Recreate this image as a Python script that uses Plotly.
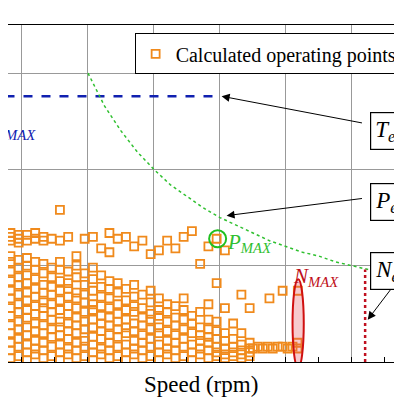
import plotly.graph_objects as go

# operating points (speed rpm, torque Nm) read column by column
speed_cols = [1650, 1900, 2150, 2400, 2650, 2900, 3150, 3400, 3650, 3900, 4150, 4400,
              4650, 4900, 5150, 5400, 5650, 5900, 6150, 6400, 6650, 6900, 7150, 7400,
              7650, 7900, 8150, 8400, 8650, 8900]
torque_cols = [
    [2, 6, 10, 15, 19, 24, 28, 33, 37, 42, 47, 52, 55, 63, 65, 67],
    [3, 8, 12, 17, 21, 26, 30, 35, 40, 44, 49, 53, 62, 64, 66],
    [1, 5, 9, 14, 18, 23, 27, 32, 36, 41, 45, 50, 54, 63, 66],
    [4, 7, 11, 16, 20, 25, 29, 34, 38, 43, 48, 52, 64, 67],
    [2, 6, 10, 15, 19, 24, 28, 31, 36, 40, 46, 51, 63, 65],
    [3, 8, 13, 17, 22, 26, 30, 35, 39, 44, 49, 64],
    [1, 5, 9, 14, 18, 21, 27, 32, 37, 42, 48, 52, 63, 79],
    [4, 7, 12, 16, 20, 25, 29, 34, 38, 41, 47, 65],
    [2, 6, 10, 15, 19, 23, 28, 33, 36, 44, 50, 55],
    [3, 8, 11, 17, 21, 26, 31, 35, 40, 46, 64],
    [1, 5, 9, 13, 18, 22, 27, 30, 37, 43, 49, 65],
    [4, 7, 12, 16, 20, 24, 29, 34, 39, 45, 59],
    [2, 6, 10, 14, 19, 23, 28, 33, 38, 42, 57, 67],
    [3, 8, 13, 17, 21, 25, 30, 36, 41, 64],
    [1, 5, 9, 15, 18, 22, 27, 32, 38, 65],
    [4, 7, 11, 16, 20, 26, 29, 34, 40, 60],
    [2, 6, 10, 14, 19, 23, 28, 35, 63],
    [3, 8, 12, 17, 22, 25, 31, 37, 56],
    [1, 5, 9, 15, 18, 24, 27, 33, 58],
    [4, 7, 11, 16, 21, 26, 30, 63],
    [2, 6, 10, 14, 19, 23, 29, 59],
    [3, 8, 12, 17, 22, 27, 33, 65],
    [1, 5, 9, 15, 20, 24, 68],
    [4, 7, 11, 14, 18, 26, 51],
    [2, 6, 10, 13, 17, 22, 30, 60],
    [3, 5, 8, 12, 16, 21, 41, 64],
    [2, 4, 7, 11, 15, 28, 58],
    [3, 5, 8, 12, 20],
    [2, 4, 6, 9, 15, 35],
    [3, 5, 7, 10, 28],
]
band_speed = [9000, 9150, 9300, 9450, 9600, 9750, 9900, 10050, 10200, 10350, 9500, 9900, 10360, 10350]
band_torque = [7, 8, 7, 8, 7, 8, 8, 7, 8, 7, 33, 37, 37, 10]

speed = [s for s, col in zip(speed_cols, torque_cols) for _ in col] + band_speed
torque = [t for col in torque_cols for t in col] + band_torque

t_max = 138
p_max_speed, p_max_torque = 7930, 64
p_curve_speed = [4000, 4500, 5000, 5500, 6000, 6500, 7000, 7500, 8000, 8500, 9000,
                 9500, 10000, 10500, 11000, 11500, 12000, 12500]
p_curve_torque = [150, 133, 120, 109, 100, 92, 86, 80, 75, 71, 67, 63, 60, 57, 55, 52, 50, 48]
n_max = 12400

fig = go.Figure()
fig.add_trace(go.Scatter(x=speed, y=torque, mode="markers", name="Calculated operating points",
                         marker=dict(symbol="square-open", size=8, color="#F08A1C",
                                     line=dict(width=1.8))))
fig.add_trace(go.Scatter(x=[1500, 8000], y=[t_max, t_max], mode="lines", showlegend=False,
                         line=dict(color="#1020B0", width=2.5, dash="dash")))
fig.add_trace(go.Scatter(x=p_curve_speed, y=p_curve_torque, mode="lines", showlegend=False,
                         line=dict(color="#30C030", width=1.5, dash="dot")))
fig.add_trace(go.Scatter(x=[n_max, n_max], y=[0, 48], mode="lines", showlegend=False,
                         line=dict(color="#C01020", width=2.5, dash="dot")))
fig.add_trace(go.Scatter(x=[p_max_speed], y=[p_max_torque], mode="markers", showlegend=False,
                         marker=dict(symbol="circle-open", size=17, color="#20C020",
                                     line=dict(width=2))))

fig.add_shape(type="circle", x0=10200, x1=10540, y0=-3, y1=43,
              line=dict(color="#D01010", width=2), fillcolor="rgba(230,80,90,0.3)")

serif = "Liberation Serif"
for txt, x, y, c in [("P<sub>MAX</sub>", 8900, 62, "#30C030"),
                     ("N<sub>MAX</sub>", 10900, 44, "#C01020"),
                     ("<sub>MAX</sub>", 1950, 118, "#1020B0")]:
    fig.add_annotation(x=x, y=y, text="<i>" + txt + "</i>", showarrow=False,
                       font=dict(family=serif, size=21, color=c))

for txt, y, ax_, ay_, tx, ty in [("T<sub>em</sub> =", 120, 8050, 138, 12350, 124),
                                 ("P<sub>em</sub> =", 83, 8200, 76, 12350, 85),
                                 ("N<sub>em</sub> =", 47, 12480, 22, 13500, 45)]:
    fig.add_annotation(x=ax_, y=ay_, ax=tx, ay=ty, axref="x", ayref="y", text="",
                       showarrow=True, arrowhead=2, arrowsize=1.6, arrowwidth=1, arrowcolor="black")
    fig.add_annotation(x=12560, y=y, text="<i>" + txt + "</i>", showarrow=False, xanchor="left",
                       font=dict(family=serif, size=23, color="black"),
                       bordercolor="black", borderwidth=1.2, bgcolor="white", borderpad=4)

fig.add_annotation(x=0.48, y=-0.025, xref="paper", yref="paper", text="Speed (rpm)",
                   showarrow=False, yanchor="top", font=dict(family=serif, size=23, color="black"))

fig.update_layout(
    width=402, height=402, margin=dict(l=0, r=0, t=17, b=48),
    plot_bgcolor="white", paper_bgcolor="white",
    showlegend=True,
    legend=dict(x=0.315, y=0.975, xanchor="left", yanchor="top", bordercolor="black",
                borderwidth=1, bgcolor="white",
                font=dict(family=serif, size=20, color="black")),
)
fig.update_xaxes(range=[1576, 13760], tickvals=[2000, 4000, 6000, 8000, 10000, 12000],
                 showticklabels=False, showgrid=True, gridcolor="#999", gridwidth=1,
                 showline=True, linecolor="black", mirror=True, zeroline=False,
                 minor=dict(ticks="inside", ticklen=5, tickcolor="black", dtick=1000, showgrid=False))
fig.update_yaxes(range=[0, 175], tickvals=[0, 50, 100, 150], showticklabels=False,
                 showgrid=True, gridcolor="#999", showline=True, linecolor="black",
                 mirror=True, zeroline=False)

fig.write_html("out.html")
